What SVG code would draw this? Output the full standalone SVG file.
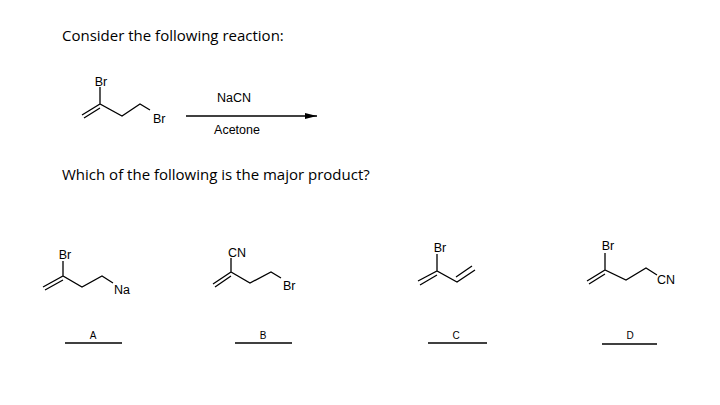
<svg xmlns="http://www.w3.org/2000/svg" width="720" height="405" viewBox="0 0 720 405">
<style>
.q{font-family:"Open Sans","Liberation Sans",sans-serif;font-size:15px;fill:#000}
.a{font-family:"Liberation Sans",Arial,sans-serif;font-size:12.5px;fill:#000}
.s{font-family:"Liberation Sans",Arial,sans-serif;font-size:10px;fill:#000}
.b{stroke:#000;stroke-width:1.3;fill:none}
</style>
<defs><marker id="ah" markerWidth="12" markerHeight="6" refX="12" refY="3" orient="auto" markerUnits="userSpaceOnUse"><path d="M0,0L12,3L0,6z"/></marker></defs>
<rect width="720" height="405" fill="#fff"/>
<text class="q" x="62" y="41">Consider the following reaction:</text>
<text class="q" x="62" y="180">Which of the following is the major product?</text>
<g id="reactant">
<path class="b" d="M82,115L100,104L122,116L140,104L150,110M100,104V87M84,118L100,108"/>
<text class="a" x="101" y="86" text-anchor="middle">Br</text>
<text class="a" x="153" y="123">Br</text>
</g>
<g id="connectors">
<line class="b" x1="186" y1="116" x2="317" y2="116" marker-end="url(#ah)"/>
</g>
<text class="a" x="234" y="102" text-anchor="middle">NaCN</text>
<text class="a" x="237" y="134" text-anchor="middle">Acetone</text>
<g id="optA">
<path class="b" d="M43,287L63,276L82,287L102,276L113,283M63,276V261M45,290L63,280"/>
<text class="a" x="65" y="259" text-anchor="middle">Br</text>
<text class="a" x="114" y="294">Na</text>
<text class="s" x="93" y="339" text-anchor="middle">A</text>
<line class="b" x1="65" y1="343" x2="122" y2="343"/>
</g>
<g id="optB">
<path class="b" d="M213,284L231,272L250,283L271,272L281,278M231,272V258M215,287L231,276"/>
<text class="a" x="237" y="257" text-anchor="middle">CN</text>
<text class="a" x="283" y="290">Br</text>
<text class="s" x="263" y="339" text-anchor="middle">B</text>
<line class="b" x1="235" y1="343" x2="292" y2="343"/>
</g>
<g id="optC">
<path class="b" d="M418,281L437,271L457,282L475,270M437,271V254M420,285L437,275M456,277L472,266"/>
<text class="a" x="440" y="252" text-anchor="middle">Br</text>
<text class="s" x="456" y="339" text-anchor="middle">C</text>
<line class="b" x1="428" y1="343" x2="487" y2="343"/>
</g>
<g id="optD">
<path class="b" d="M587,281L605,270L626,280L646,268L657,275M605,270V253M589,284L605,274"/>
<text class="a" x="608" y="250" text-anchor="middle">Br</text>
<text class="a" x="657" y="284">CN</text>
<text class="s" x="630" y="339" text-anchor="middle">D</text>
<line class="b" x1="602" y1="344" x2="657" y2="344"/>
</g>
</svg>
